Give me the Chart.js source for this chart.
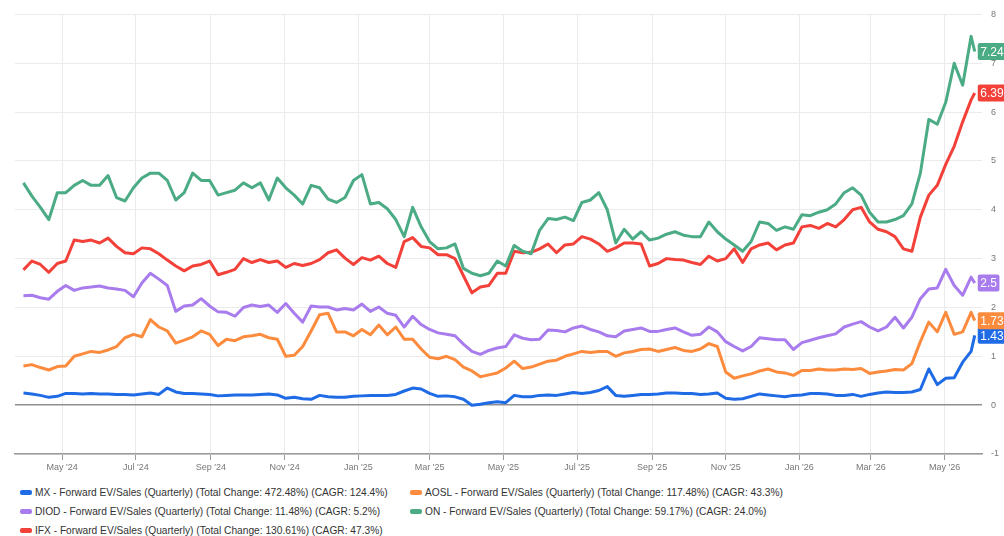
<!DOCTYPE html>
<html>
<head>
<meta charset="utf-8">
<script src="https://cdn.jsdelivr.net/npm/chart.js@4.4.1/dist/chart.umd.min.js"></script>
<style>
  body { margin: 0; background: #fff; font-family: "Liberation Sans", Arial, sans-serif; }
  #wrap { position: relative; width: 1004px; height: 536px; overflow: hidden; }
  #chart { position: absolute; left: 0; top: 0; }
  #legend { position: absolute; left: 20px; top: 486px; display: grid; grid-template-columns: 390px 400px; row-gap: 6px; font-size: 10.2px; color: #333; }
  .item { display: flex; align-items: center; white-space: nowrap; height: 13px; }
  .sw { flex: 0 0 12px; width: 12px; height: 5px; border-radius: 2px; margin-right: 3px; }
</style>
</head>
<body>
<div id="wrap">
  <canvas id="chart" width="1004" height="476"></canvas>
  <div id="legend"></div>
</div>
<script>
// weekly samples from 2024-03-30, plus the final day
const startDate = '2024-03-30';
const weekCount = 113;
const lastDate = '2026-05-26';

const tickDates = ['2024-05-01', '2024-07-01', '2024-09-01', '2024-11-01', '2025-01-01', '2025-03-01',
  '2025-05-01', '2025-07-01', '2025-09-01', '2025-11-01', '2026-01-01', '2026-03-01', '2026-05-01'];
const tickLabels = ["May '24", "Jul '24", "Sep '24", "Nov '24", "Jan '25", "Mar '25",
  "May '25", "Jul '25", "Sep '25", "Nov '25", "Jan '26", "Mar '26", "May '26"];
const axisStart = '2024-03-23';
const axisEnd = '2026-06-01';
const yTicks = [-1, 0, 1, 2, 3, 4, 5, 6, 7, 8];

const mxValues = [
  0.25, 0.23, 0.2, 0.16, 0.18, 0.24, 0.24, 0.23, 0.24, 0.23, 0.23, 0.22, 0.22, 0.21, 0.23, 0.25,
  0.22, 0.35, 0.27, 0.24, 0.24, 0.23, 0.22, 0.19, 0.2, 0.21, 0.21, 0.21, 0.22, 0.23, 0.21, 0.14,
  0.16, 0.13, 0.12, 0.2, 0.17, 0.16, 0.16, 0.18, 0.19, 0.2, 0.2, 0.2, 0.22, 0.29, 0.35, 0.33,
  0.24, 0.18, 0.19, 0.17, 0.12, 0.0, 0.02, 0.05, 0.07, 0.05, 0.2, 0.17, 0.17, 0.2, 0.21, 0.2,
  0.23, 0.26, 0.24, 0.26, 0.3, 0.38, 0.2, 0.18, 0.2, 0.22, 0.22, 0.23, 0.25, 0.25, 0.24, 0.24,
  0.22, 0.23, 0.25, 0.14, 0.12, 0.13, 0.18, 0.23, 0.21, 0.19, 0.17, 0.2, 0.21, 0.24, 0.24,
  0.23, 0.2, 0.2, 0.22, 0.18, 0.22, 0.25, 0.27, 0.26, 0.26, 0.27, 0.32, 0.74, 0.42, 0.55, 0.56, 0.88, 1.1, 1.43
];
const aoslValues = [
  0.8, 0.83, 0.77, 0.72, 0.79, 0.8, 1.0, 1.05, 1.1, 1.08, 1.13, 1.2, 1.38, 1.45, 1.4, 1.75,
  1.6, 1.52, 1.27, 1.33, 1.4, 1.52, 1.45, 1.22, 1.35, 1.32, 1.4, 1.42, 1.45, 1.38, 1.35, 1.0,
  1.02, 1.2, 1.52, 1.85, 1.88, 1.5, 1.5, 1.42, 1.55, 1.44, 1.64, 1.44, 1.6, 1.35, 1.35, 1.15,
  0.98, 0.95, 1.0, 0.93, 0.78, 0.7, 0.58, 0.62, 0.66, 0.76, 0.9, 0.75, 0.78, 0.84, 0.9, 0.92,
  1.0, 1.05, 1.1, 1.08, 1.1, 1.1, 1.0, 1.07, 1.1, 1.14, 1.15, 1.1, 1.14, 1.18, 1.12, 1.1,
  1.15, 1.26, 1.2, 0.68, 0.55, 0.6, 0.64, 0.7, 0.74, 0.68, 0.66, 0.61, 0.71, 0.71, 0.74,
  0.72, 0.72, 0.74, 0.73, 0.75, 0.65, 0.68, 0.7, 0.73, 0.72, 0.85, 1.3, 1.7, 1.5, 1.9, 1.45, 1.5, 1.9, 1.73
];
const diodValues = [
  2.24, 2.25, 2.2, 2.17, 2.33, 2.45, 2.35, 2.4, 2.42, 2.44, 2.4, 2.38, 2.35, 2.22, 2.5, 2.7,
  2.58, 2.45, 1.92, 2.03, 2.05, 2.18, 2.03, 1.91, 1.9, 1.82, 2.0, 2.05, 2.02, 2.05, 1.9, 2.08,
  1.88, 1.7, 2.03, 2.01, 2.01, 1.95, 1.98, 1.95, 2.07, 1.92, 2.01, 1.88, 1.84, 1.6, 1.82, 1.65,
  1.55, 1.48, 1.45, 1.42, 1.25, 1.1, 1.04, 1.12, 1.17, 1.2, 1.44, 1.37, 1.34, 1.35, 1.54, 1.53,
  1.5, 1.58, 1.62, 1.55, 1.5, 1.42, 1.4, 1.52, 1.55, 1.58, 1.51, 1.51, 1.55, 1.58, 1.5, 1.43,
  1.45, 1.6, 1.5, 1.3, 1.2, 1.11, 1.2, 1.38, 1.36, 1.34, 1.34, 1.14, 1.28, 1.33, 1.38,
  1.42, 1.46, 1.6, 1.66, 1.71, 1.6, 1.52, 1.6, 1.8, 1.58, 1.8, 2.18, 2.38, 2.4, 2.78, 2.45, 2.25, 2.62, 2.5
];
const onValues = [
  4.55, 4.28, 4.05, 3.8, 4.35, 4.35, 4.5, 4.6, 4.5, 4.5, 4.7, 4.25, 4.18, 4.45, 4.65, 4.75,
  4.75, 4.6, 4.2, 4.35, 4.75, 4.6, 4.6, 4.3, 4.35, 4.4, 4.55, 4.45, 4.55, 4.2, 4.65, 4.45,
  4.3, 4.12, 4.5, 4.45, 4.22, 4.15, 4.25, 4.6, 4.72, 4.12, 4.15, 4.02, 3.8, 3.45, 4.05, 3.65,
  3.35, 3.2, 3.22, 3.3, 2.8, 2.7, 2.65, 2.7, 2.95, 2.85, 3.27, 3.15, 3.1, 3.58, 3.82, 3.8,
  3.85, 3.78, 4.15, 4.2, 4.35, 4.0, 3.32, 3.6, 3.4, 3.55, 3.38, 3.42, 3.5, 3.55, 3.48, 3.45,
  3.45, 3.75, 3.55, 3.4, 3.28, 3.15, 3.35, 3.75, 3.72, 3.58, 3.65, 3.6, 3.9, 3.88, 3.95,
  4.0, 4.12, 4.35, 4.45, 4.3, 3.95, 3.75, 3.75, 3.8, 3.88, 4.12, 4.75, 5.85, 5.75, 6.2, 7.0, 6.55, 7.55, 7.24
];
const ifxValues = [
  2.77, 2.95, 2.88, 2.72, 2.9, 2.95, 3.38, 3.35, 3.38, 3.32, 3.42, 3.25, 3.12, 3.1, 3.22, 3.2,
  3.1, 2.97, 2.85, 2.75, 2.85, 2.88, 2.95, 2.67, 2.72, 2.78, 3.0, 2.92, 2.98, 2.92, 2.95, 2.82,
  2.9, 2.86, 2.9, 2.98, 3.12, 3.18, 3.01, 2.88, 3.02, 2.97, 3.05, 2.9, 2.82, 3.35, 3.43, 3.25,
  3.22, 3.08, 3.08, 3.0, 2.65, 2.3, 2.42, 2.45, 2.7, 2.7, 3.15, 3.12, 3.13, 3.2, 3.3, 3.12,
  3.28, 3.3, 3.45, 3.4, 3.3, 3.15, 3.22, 3.32, 3.32, 3.3, 2.85, 2.9, 3.0, 2.98, 2.97, 2.92,
  2.88, 3.05, 2.95, 3.0, 3.2, 2.92, 3.2, 3.28, 3.32, 3.18, 3.28, 3.32, 3.65, 3.68, 3.62,
  3.72, 3.65, 3.8, 4.0, 4.05, 3.75, 3.6, 3.55, 3.45, 3.2, 3.15, 3.85, 4.3, 4.5, 4.93, 5.3, 5.8, 6.25, 6.39
];

const seriesNames = ['MX', 'AOSL', 'DIOD', 'ON', 'IFX'];
const seriesTotals = ['472.48%', '117.48%', '11.48%', '59.17%', '130.61%'];
const seriesCagr = ['124.4%', '43.3%', '5.2%', '24.0%', '47.3%'];
const seriesValues = [mxValues, aoslValues, diodValues, onValues, ifxValues];
const seriesColors = ['#1f6be6', '#fd8b3e', '#a97cee', '#4aab84', '#f3413a'];

const DAY = 86400000;
const dayOf = s => Date.parse(s + 'T00:00:00Z') / DAY;

const dates = [];
for (let i = 0; i < weekCount; i++) dates.push(dayOf(startDate) + i * 7);
dates.push(dayOf(lastDate));

const datasets = seriesNames.map((name, i) => ({
  label: name + ' - Forward EV/Sales (Quarterly) (Total Change: ' + seriesTotals[i] + ') (CAGR: ' + seriesCagr[i] + ')',
  data: seriesValues[i].map((v, j) => ({ x: dates[j], y: v })),
  borderColor: seriesColors[i],
  backgroundColor: seriesColors[i],
  borderWidth: 3,
  pointRadius: 0,
  tension: 0,
  borderJoinStyle: 'round'
}));

// value boxes at the end of every line
const endLabels = {
  id: 'endLabels',
  afterDatasetsDraw(chart) {
    const ctx = chart.ctx;
    ctx.save();
    ctx.font = '12px "Liberation Sans", Arial, sans-serif';
    ctx.textBaseline = 'middle';
    chart.data.datasets.forEach((ds, i) => {
      const meta = chart.getDatasetMeta(i);
      const pt = meta.data[meta.data.length - 1];
      const txt = String(ds.data[ds.data.length - 1].y);
      const w = ctx.measureText(txt).width + 5;
      const h = 17;
      const x = pt.x + 3;
      const y = pt.y - h / 2;
      ctx.fillStyle = ds.borderColor;
      ctx.beginPath();
      ctx.roundRect(x, y, w, h, 2);
      ctx.fill();
      ctx.fillStyle = '#fff';
      ctx.fillText(txt, x + 2.5, pt.y + 1);
    });
    ctx.restore();
  }
};

new Chart(document.getElementById('chart'), {
  type: 'line',
  data: { datasets: datasets },
  plugins: [endLabels],
  options: {
    responsive: false,
    animation: false,
    layout: { padding: { top: 8, left: 15, right: 0, bottom: 2 } },
    plugins: { legend: { display: false }, tooltip: { enabled: false } },
    scales: {
      x: {
        type: 'linear',
        min: dayOf(axisStart),
        max: dayOf(axisEnd),
        afterBuildTicks: scale => { scale.ticks = tickDates.map(d => ({ value: dayOf(d) })); },
        afterFit: scale => { scale.height = 20; },
        ticks: {
          autoSkip: false,
          maxRotation: 0,
          padding: 2,
          color: '#777',
          font: { size: 9, family: '"Liberation Sans", Arial, sans-serif' },
          callback: (v, i) => tickLabels[i]
        },
        grid: { color: '#ebebeb', tickColor: '#999', tickLength: 6 },
        border: { display: true, color: '#9a9a9a', width: 1.5 }
      },
      y: {
        position: 'right',
        min: -1,
        max: 8,
        afterBuildTicks: scale => { scale.ticks = yTicks.map(v => ({ value: v })); },
        afterFit: scale => { scale.width = 22; },
        ticks: {
          padding: 9,
          color: '#777',
          font: { size: 9, family: '"Liberation Sans", Arial, sans-serif' }
        },
        grid: {
          drawTicks: false,
          color: ctx => ctx.tick && ctx.tick.value === 0 ? '#8f8f8f' : '#ebebeb',
          lineWidth: ctx => ctx.tick && ctx.tick.value === 0 ? 1.5 : 1
        },
        border: { display: false }
      }
    }
  }
});

// legend below the chart, two columns
const legend = document.getElementById('legend');
datasets.forEach(ds => {
  const item = document.createElement('div');
  item.className = 'item';
  item.innerHTML = '<span class="sw" style="background:' + ds.borderColor + '"></span><span>' + ds.label + '</span>';
  legend.appendChild(item);
});
</script>
</body>
</html>
